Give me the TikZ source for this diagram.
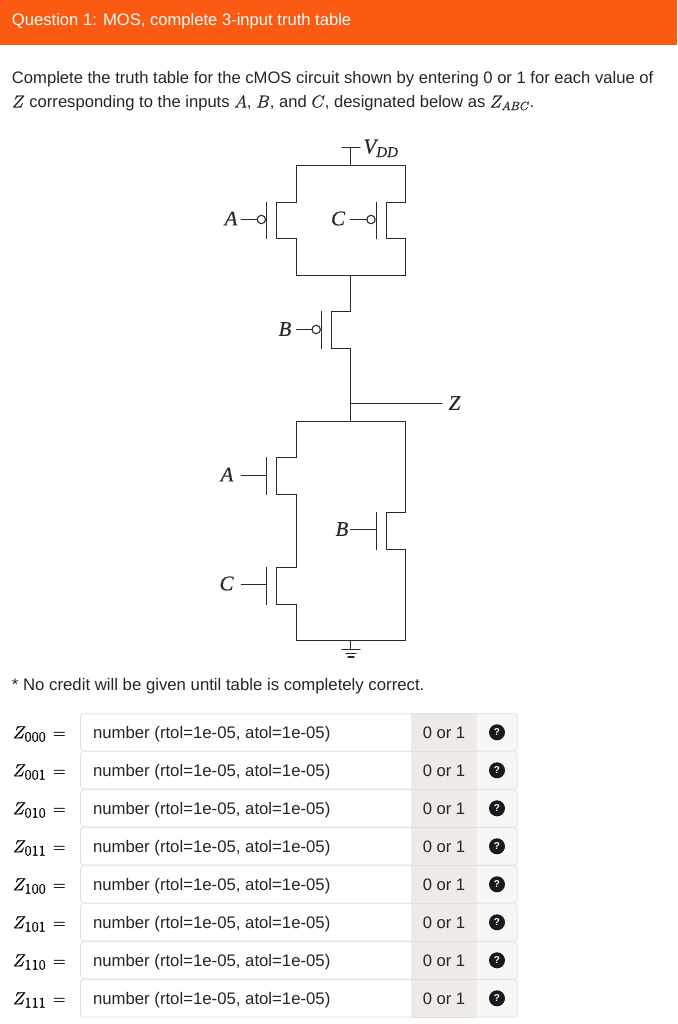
\documentclass[tikz,border=0pt]{standalone}
\usepackage{fontspec}
\setmainfont{Liberation Sans}
\newfontfamily\lblfont{Liberation Serif}[ItalicFeatures={FakeBold=0.25}]
\definecolor{hdr}{HTML}{FB5A12}
\definecolor{ink}{HTML}{23272B}
\definecolor{wire}{HTML}{2A2A2A}
\definecolor{edgeg}{HTML}{E3E0DC}
\definecolor{addon}{HTML}{EDEAE7}
\definecolor{helpbg}{HTML}{F8F7F5}
\definecolor{qdark}{HTML}{16191D}
\newcommand{\mth}[2][18]{{\fontsize{#1}{20}\selectfont\special{pdf:code q 2 Tr 0.14 w}$#2$\special{pdf:code 0 Tr Q}}}
\tikzset{
  txt/.style={anchor=base west,inner sep=0pt,outer sep=0pt,text=ink,font=\fontsize{16.6}{19}\selectfont},
  txtw/.style={txt,font=\fontsize{16.75}{19}\selectfont},
  lab/.style={inner sep=0pt,outer sep=0pt,text=wire,font=\lblfont\itshape\fontsize{21}{23}\selectfont},
  wirel/.style={draw=wire,line width=1.35pt,line cap=round,line join=miter},
  bubble/.style={circle,draw=wire,fill=white,line width=1.1pt,minimum size=8.4pt,inner sep=0pt,outer sep=0pt},
  cellb/.style={draw=edgeg,line width=0.8pt},
}
% #1 drain/source x, #2 top y, #3 channel x, #4 gate x, #5 bottom y
\newcommand{\chan}[5]{%
  \draw[wirel] (#1,#2) -- (#3,#2) -- (#3,#5) -- (#1,#5);
  \draw[wirel] (#4,#2) -- (#4,#5);}
\begin{document}
\begin{tikzpicture}[x=1pt,y=-1pt]
\useasboundingbox (0,0) rectangle (677,1024);
\fill[white] (0,0) rectangle (677,1024);
\fill[hdr] (0,0) rectangle (677,44.7);
\node[txt,text=white] (title) at (12,26) {Question 1: MOS, complete 3-input truth table};
\node[txt] (para1) at (12,83.5) {Complete the truth table for the cMOS circuit shown by entering 0 or 1 for each value of};
\node[txt] (para2) at (12,107.5) {\mth{Z} corresponding to the inputs \mth{A}, \mth{B}, and \mth{C}, designated below as \mth{Z_{ABC}}.};
\node[txtw] (note) at (12,690.5) {* No credit will be given until table is completely correct.};
% --- pull-up network
\coordinate (vddt) at (350.5,147.5);
\coordinate (upT) at (350.5,165.5);
\coordinate (upB) at (350.5,275.5);
\draw[wirel] (342,147.5) -- (360,147.5);
\draw[wirel] (vddt) -- (upT);
\draw[wirel] (296.5,202.5) -- (296.5,165.5) -- (405.5,165.5) -- (405.5,202.5);
\draw[wirel] (296.5,238.5) -- (296.5,275.5) -- (405.5,275.5) -- (405.5,238.5);
\chan{296.5}{202.5}{276.5}{266.5}{238.5}
\chan{405.5}{202.5}{386.5}{376.5}{238.5}
\draw[wirel] (upB) -- (350.5,311.5);
\chan{350.5}{311.5}{331.5}{321.5}{348.5}
\node[bubble] (bA) at (261.4,219.5) {};
\node[bubble] (bC) at (371,219.5) {};
\node[bubble] (bB) at (316.2,329.5) {};
\node[lab] (lA) at (231,218.5) {A};
\node[lab] (lC) at (338,218.5) {C};
\node[lab] (lB) at (285,329) {B};
\coordinate (gA) at (241.5,219.5);
\coordinate (gC) at (350.5,219.5);
\coordinate (gB) at (296.5,329.5);
\draw[wirel] (gA) -- (bA);
\draw[wirel] (gC) -- (bC);
\draw[wirel] (gB) -- (bB);
\node[lab,anchor=base west] (vdd) at (363.5,153.5) {V\raisebox{-3.5pt}{\fontsize{15}{15}\selectfont DD}};
% --- output
\coordinate (zj) at (350.5,403.5);
\coordinate (ze) at (442,403.5);
\node[lab] (lZ) at (454.5,403) {Z};
\draw[wirel] (350.5,348.5) -- (zj) -- (350.5,421.5);
\draw[wirel] (zj) -- (ze);
% --- pull-down network
\draw[wirel] (296.5,457.5) -- (296.5,421.5) -- (405.5,421.5) -- (405.5,512.5);
\draw[wirel] (296.5,494.5) -- (296.5,567.5);
\draw[wirel] (296.5,604.5) -- (296.5,640.5) -- (405.5,640.5) -- (405.5,549.5);
\chan{296.5}{457.5}{276.5}{266.5}{494.5}
\chan{296.5}{567.5}{276.5}{266.5}{604.5}
\chan{405.5}{512.5}{386.5}{376.5}{549.5}
\node[lab] (nA) at (227,474.5) {A};
\node[lab] (nB) at (342,529) {B};
\node[lab] (nC) at (226.5,583.5) {C};
\draw[wirel] (241.5,475.5) -- (266.5,475.5);
\draw[wirel] (350.5,529.5) -- (376.5,529.5);
\draw[wirel] (241.5,584.5) -- (266.5,584.5);
% --- ground
\draw[wirel] (350.5,640.5) -- (350.5,649.5);
\draw[wirel] (342,649.5) -- (360,649.5);
\draw[wirel] (346,653.5) -- (356,653.5);
\draw[wirel] (348,657) -- (354,657);
% --- answer rows
\foreach \i/\bits in {0/000,1/001,2/010,3/011,4/100,5/101,6/110,7/111}{
  \pgfmathsetmacro{\yt}{713.7+38*\i}
  \pgfmathsetmacro{\yb}{\yt+37.2}
  \pgfmathsetmacro{\ybase}{\yt+24.5}
  \pgfmathsetmacro{\yc}{\yt+18.6}
  \draw[cellb,fill=white,rounded corners=3pt] (80.5,\yt) rectangle (420,\yb);
  \draw[cellb,fill=helpbg,rounded corners=3pt] (460,\yt) rectangle (517.3,\yb);
  \fill[addon] (411.3,\yt) rectangle (476.7,\yb);
  \draw[cellb] (411.3,\yt) -- (476.7,\yt) (411.3,\yb) -- (476.7,\yb);
  \node[txtw] (num\i) at (93,\ybase) {number (rtol=1e-05, atol=1e-05)};
  \node[txt,anchor=base] (rng\i) at (444,\ybase) {0 or 1};
  \node[txt,text=black] (zl\i) at (13,\ybase) {\mth[19]{Z_{\bits}}};
  \node[txt,text=black] (eq\i) at (53,\ybase) {\mth[18.5]{=}};
  \node[circle,fill=qdark,minimum size=16pt,inner sep=0pt,text=white,font=\bfseries\fontsize{10}{10}\selectfont] (q\i) at (497,\yc) {?};
}
\end{tikzpicture}
\end{document}
